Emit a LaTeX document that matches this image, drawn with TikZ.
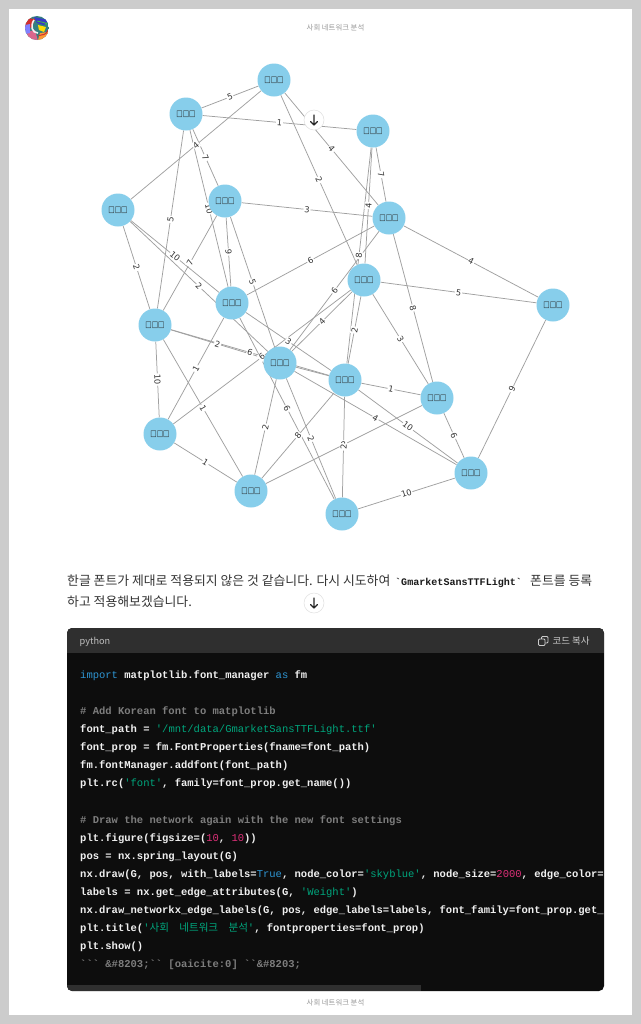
\documentclass[tikz,border=0pt]{standalone}
\usepackage{fontspec}
\setmainfont{Noto Sans CJK KR}
\newfontfamily\djfont{DejaVu Sans}
\newfontfamily\cjkfont{Noto Sans CJK KR}
\newfontfamily\codef{Liberation Mono}
\definecolor{sky}{HTML}{87CEEB}
\definecolor{pagegray}{HTML}{CCCCCC}
\definecolor{edgec}{HTML}{A0A0A0}
\definecolor{codebg}{HTML}{0D0D0D}
\definecolor{headbg}{HTML}{2F2F2F}
\definecolor{kwc}{HTML}{2E95D3}
\definecolor{strc}{HTML}{00A67D}
\definecolor{numc}{HTML}{DF3079}
\definecolor{comc}{HTML}{7D7D7D}
\definecolor{fgc}{HTML}{F0F0F0}
\pgfdeclarelayer{page}
\pgfdeclarelayer{edges}
\pgfsetlayers{page,edges,main}
\newcommand{\ckw}[1]{\textcolor{kwc}{\mdseries #1}}
\newcommand{\cst}[1]{\textcolor{strc}{\mdseries #1}}
\newcommand{\cnm}[1]{\textcolor{numc}{\mdseries #1}}
\newcommand{\tofu}{\scalebox{1}[1.25]{□□□}}
\tikzset{
  gnode/.style={circle,fill=sky,minimum size=33bp,inner sep=0pt,text=black!85,font=\djfont\fontsize{6.8}{7}\selectfont},
  gedge/.style={draw=edgec,line width=0.75pt},
  elabel/.style={fill=white,inner sep=0.9pt,text=black!80,font=\djfont\fontsize{8.3}{9}\selectfont,sloped,pos=0.5},
  codeline/.style={anchor=base west,inner sep=0pt,text=fgc,font=\codef\bfseries\fontsize{10.55}{12}\selectfont},
  comment/.style={codeline,text=comc},
  caption/.style={anchor=center,inner sep=0pt,text=black!40,font=\cjkfont\fontsize{7.4}{9}\selectfont},
  bodytext/.style={anchor=base west,inner sep=0pt,text=black!80,font=\cjkfont\fontsize{12.9}{15}\selectfont},
  scrollbtn/.style={circle,draw=black!12,fill=white,line width=0.5pt,minimum size=20bp,inner sep=0pt},
  btnarrow/.style={draw=black!85,line width=1.1pt,line cap=round,line join=round},
}
\begin{document}
\begin{tikzpicture}[x=1bp,y=-1bp]
\useasboundingbox (0,0) rectangle (641,1024);
\begin{pgfonlayer}{page}
\fill[pagegray] (0,0) rectangle (641,1024);
\fill[white] (9,9) rectangle (632,1015);
\end{pgfonlayer}

% avatar
\begin{scope}
\clip (37,28) circle (12);
\fill[teal!60!gray] (25,16) rectangle (49,40);
\fill[red!65!gray] (26,18) -- (35,19) -- (32,27) -- (25,30) -- cycle;
\fill[blue!55!gray] (34,17) -- (48,20) -- (44,25) -- (37,23) -- cycle;
\fill[yellow!80!orange] (38,25) -- (46,27) -- (44,32) -- (39,30) -- cycle;
\fill[purple!60] (27,32) -- (35,30) -- (38,41) -- (28,41) -- cycle;
\fill[orange!80] (40,33) -- (48,32) -- (46,40) -- (38,40) -- cycle;
\fill[blue!50] (25,25) -- (30,24) -- (30,33) -- (25,34) -- cycle;
\draw[white!90!gray,line width=1.6pt] (34,20) .. controls (30,26) and (32,33) .. (38,33);
\draw[red!60!gray,line width=1pt] (38,36) .. controls (42,34) and (46,36) .. (48,30);
\draw[green!50!gray,line width=0.8pt] (37,21) .. controls (40,22) and (44,22) .. (47,24);
\end{scope}
\node[caption] (titletop) at (335.5,28) {사회 네트워크 분석};

% graph nodes
\node[gnode] (A) at (274,80) {\tofu};
\node[gnode] (B) at (186,114) {\tofu};
\node[gnode] (C) at (373,131) {\tofu};
\node[gnode] (D) at (225,201) {\tofu};
\node[gnode] (E) at (118,210) {\tofu};
\node[gnode] (F) at (389,218) {\tofu};
\node[gnode] (G) at (364,280) {\tofu};
\node[gnode] (H) at (553,305) {\tofu};
\node[gnode] (I) at (232,303) {\tofu};
\node[gnode] (J) at (155,325) {\tofu};
\node[gnode] (K) at (280,363) {\tofu};
\node[gnode] (L) at (345,380) {\tofu};
\node[gnode] (M) at (437,398) {\tofu};
\node[gnode] (N) at (160,434) {\tofu};
\node[gnode] (O) at (471,473) {\tofu};
\node[gnode] (P) at (251,491) {\tofu};
\node[gnode] (Q) at (342,514) {\tofu};

\begin{pgfonlayer}{edges}
\foreach \a/\b/\w [count=\i] in {
  A/B/5,B/C/1,A/F/4,A/E/4,A/G/2,B/D/7,B/J/5,B/I/10,D/F/3,D/I/9,D/K/5,D/J/7,
  E/J/2,E/I/10,E/K/2,F/I/6,F/H/4,F/M/8,F/C/7,C/G/4,C/L/8,F/K/6,G/H/5,G/M/3,
  G/L/2,G/K/4,G/N/6,I/L/3,J/K/2,J/L/6,J/N/10,J/P/1,I/N/1,I/Q/6,K/Q/2,K/P/2,
  K/O/4,L/M/1,L/O/10,L/P/8,M/P/2,L/Q/2,M/O/6,H/O/9,O/Q/10,N/P/1}
  {\draw[gedge] (\a) -- (\b);}
\draw[gedge] (K) -- (L);
\foreach \a/\b/\w [count=\i] in {
  A/B/5,B/C/1,A/F/4,A/E/4,A/G/2,B/D/7,B/J/5,B/I/10,D/F/3,D/I/9,D/K/5,D/J/7,
  E/J/2,E/I/10,E/K/2,F/I/6,F/H/4,F/M/8,F/C/7,C/G/4,C/L/8,F/K/6,G/H/5,G/M/3,
  G/L/2,G/K/4,G/N/6,I/L/3,J/K/2,J/L/6,J/N/10,J/P/1,I/N/1,I/Q/6,K/Q/2,K/P/2,
  K/O/4,L/M/1,L/O/10,L/P/8,M/P/2,L/Q/2,M/O/6,H/O/9,O/Q/10,N/P/1}
  {\path (\a) -- node[elabel,name=w\i] {\w} (\b);}
\end{pgfonlayer}

% scroll buttons
\node[scrollbtn] (btnA) at (314,120) {};
\draw[btnarrow] (314,115) -- (314,125) (310.5,121.5) -- (314,125) -- (317.5,121.5);
\node[scrollbtn] (btnB) at (314,603) {};
\draw[btnarrow] (314,598) -- (314,608) (310.5,604.5) -- (314,608) -- (317.5,604.5);

% body text
\node[bodytext] (line1) at (67,585.5) {한글 폰트가 제대로 적용되지 않은 것 같습니다. 다시 시도하여};
\node[bodytext,text=black!90,font=\codef\bfseries\fontsize{10.1}{12}\selectfont] (mono) at (395,585.5) {`GmarketSansTTFLight`};
\node[bodytext] (line1b) at (530,585.5) {폰트를 등록};
\node[bodytext] (line2) at (67,606.5) {하고 적용해보겠습니다.};

% code block
\fill[codebg,rounded corners=5bp] (67,628) rectangle (604,991);
\begin{scope}
\clip[rounded corners=5bp] (67,628) rectangle (604,991);
\fill[headbg] (67,628) rectangle (604,653);
\fill[headbg] (67,985) rectangle (421,991);
\node[anchor=base west,inner sep=0pt,text=black!25,font=\cjkfont\fontsize{9.2}{11}\selectfont] (lang) at (79.5,644.5) {python};
\node[anchor=base west,inner sep=0pt,text=black!20,font=\cjkfont\fontsize{9.5}{11}\selectfont] (copy) at (552.5,644.5) {코드 복사};
\draw[black!20,line width=0.8pt,rounded corners=1bp] (541.5,636.5) rectangle (548,643);
\draw[black!20,line width=0.8pt,rounded corners=1bp,fill=headbg] (538.5,639) rectangle (545,645.5);
\node[codeline] (c1) at (80,678.5) {\ckw{import} matplotlib.font\_manager \ckw{as} fm};
\node[comment] (c2) at (80,714.5) {\# Add Korean font to matplotlib};
\node[codeline] (c3) at (80,732.5) {font\_path = \cst{'/mnt/data/GmarketSansTTFLight.ttf'}};
\node[codeline] (c4) at (80,750.5) {font\_prop = fm.FontProperties(fname=font\_path)};
\node[codeline] (c5) at (80,768.5) {fm.fontManager.addfont(font\_path)};
\node[codeline] (c6) at (80,786.5) {plt.rc(\cst{'font'}, family=font\_prop.get\_name())};
\node[comment] (c7) at (80,823) {\# Draw the network again with the new font settings};
\node[codeline] (c8) at (80,841) {plt.figure(figsize=(\cnm{10}, \cnm{10}))};
\node[codeline] (c9) at (80,859) {pos = nx.spring\_layout(G)};
\node[codeline] (c10) at (80,877) {nx.draw(G, pos, with\_labels=\ckw{True}, node\_color=\cst{'skyblue'}, node\_size=\cnm{2000}, edge\_color=};
\node[codeline] (c11) at (80,895) {labels = nx.get\_edge\_attributes(G, \cst{'Weight'})};
\node[codeline] (c12) at (80,913) {nx.draw\_networkx\_edge\_labels(G, pos, edge\_labels=labels, font\_family=font\_prop.get\_};
\node[codeline] (c13) at (80,931) {plt.title(\cst{'\hbox to 98.4bp{\cjkfont\mdseries\fontsize{10.6}{12}\selectfont 사회\hfill 네트워크\hfill 분석}'}, fontproperties=font\_prop)};
\node[codeline] (c14) at (80,949) {plt.show()};
\node[comment] (c15) at (80,967) {``` \&\#8203;`` [oaicite:0] ``\&\#8203;};
\end{scope}
\node[caption] (titlebot) at (335.5,1003) {사회 네트워크 분석};
\end{tikzpicture}
\end{document}
